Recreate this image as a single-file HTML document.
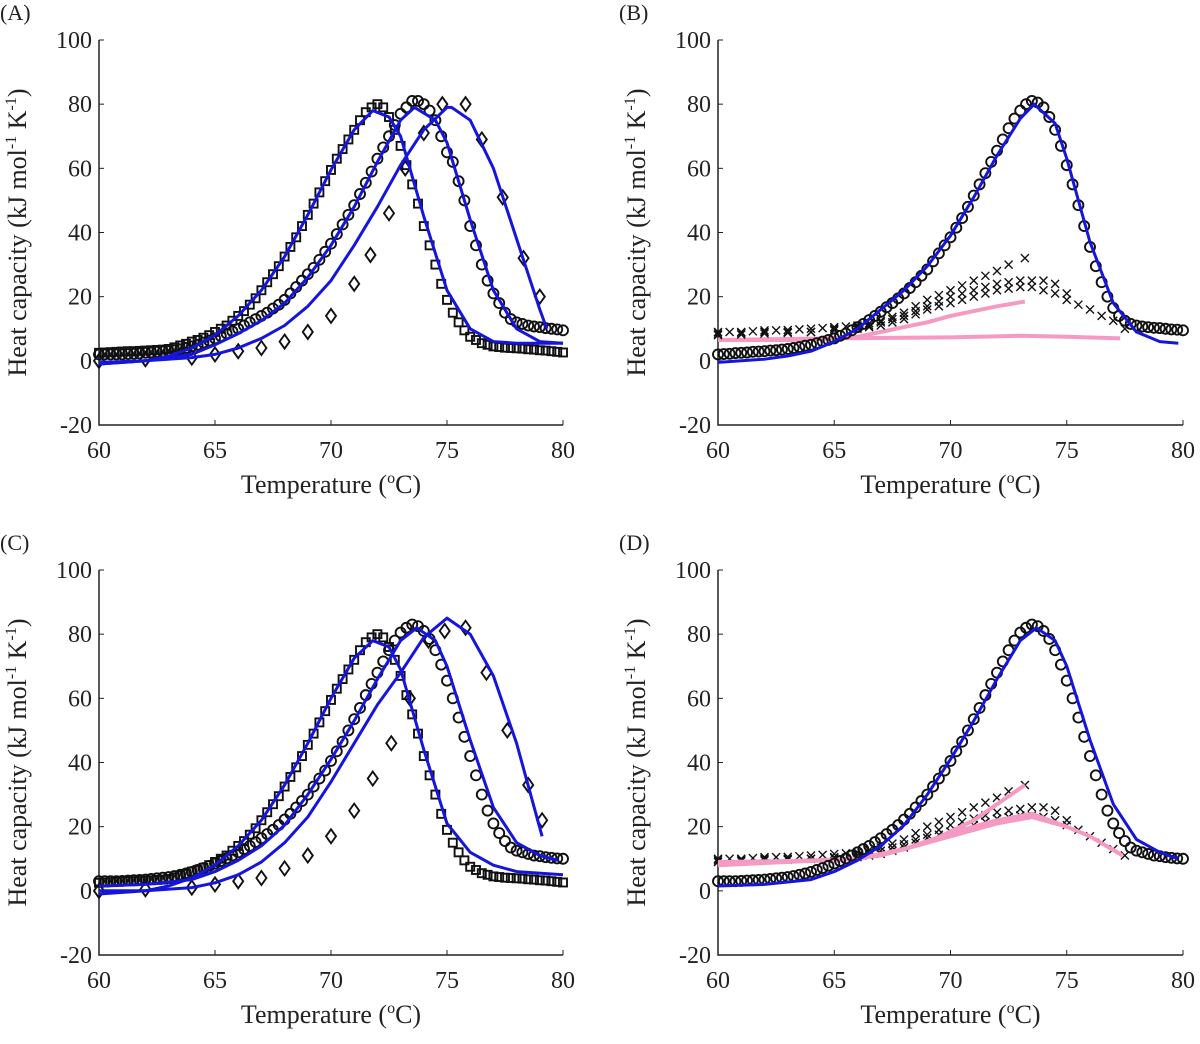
<!DOCTYPE html>
<html><head><meta charset="utf-8"><style>
body{margin:0;background:#fff}
svg text{font-family:"Liberation Serif",serif;fill:#222}
</style></head><body>
<svg id="fig" width="1200" height="1039" viewBox="0 0 1200 1039" xmlns="http://www.w3.org/2000/svg"></svg>
<script>
// ---- data ----
const gridT=[60,60.25,60.5,60.75,61,61.25,61.5,61.75,62,62.25,62.5,62.75,63,63.25,63.5,63.75,64,64.25,64.5,64.75,65,65.25,65.5,65.75,66,66.25,66.5,66.75,67,67.25,67.5,67.75,68,68.25,68.5,68.75,69,69.25,69.5,69.75,70,70.25,70.5,70.75,71,71.25,71.5,71.75,72,72.25,72.5,72.75,73,73.25,73.5,73.75,74,74.25,74.5,74.75,75,75.25,75.5,75.75,76,76.25,76.5,76.75,77,77.25,77.5,77.75,78,78.25,78.5,78.75,79,79.25,79.5,79.75,80];
const sqV=[2.5,2.6,2.7,2.8,2.9,3,3,3.1,3.2,3.3,3.4,3.5,3.7,4.2,4.8,5.3,6,6.5,7.2,8,9,10,11,12.5,14,15.5,17.5,19.5,22,24.5,27,29.5,32.5,35.5,38.5,42,45.5,49,52.5,56,59.5,63,66,69,72,75,77.5,79,80,79,76,72,67,61,55,49,42,36,30,24,19,15,12,9.5,7.5,6.5,5.5,5,4.5,4.3,4.1,4,3.9,3.8,3.6,3.5,3.3,3.2,3,2.8,2.6];
const fitSqT=[60,62,63,64,65,66,67,68,69,70,71,71.8,72.5,73,74,75,76,77,78,80];
const fitSqV=[-1,0,1.5,4,8,14,22,32.5,45.5,59.5,72,78,76,70,45,22,10,6,5.5,5.5];
const ciA=[2,2,2,2,2,2.1,2.2,2.3,2.5,2.6,2.8,2.9,3,3.3,3.6,4,4.5,5,5.7,6.3,7,7.7,8.5,9.2,10,11,12,13,14,15,16.3,17.5,19,21,23,25,27,29,31.5,34,36.5,39.5,42.5,45.5,48.5,52,55.5,59,63,66.5,70,73.5,77,79,81,81,80,78,75,70,65,62,56,50,42,36,30,25,21,18,15,13,12,11.5,11,10.7,10.5,10.2,10,9.8,9.5];
const fitCiAT=[60,62,64,65,66,67,68,69,70,71,72,73,73.6,74.5,75,76,77,78,79,80];
const fitCiAV=[-1,0,2,5,8.5,12.5,18,26,36,48,62,75,79,75,68,44,22,10,6,5.5];
const diT=[60,62,64,65,66,67,68,69,70,71,71.7,72.5,73.2,74,74.8,75.8,76.5,77.4,78.3,79];
const diA=[0,0.5,1,2,3,4,6,9,14,24,33,46,60,71,80,80,69,51,32,20];
const fitDiAT=[60,62,64,65,66,67,68,69,70,71,72,73,74,75,75.2,76,77,78,79,79.3];
const fitDiAV=[-0.5,0,1,2,4,7,11,17,25,36,48,61,72,79,79,75,60,38,16,10];
// panel B
const ciB=[2,2.1,2.2,2.4,2.5,2.6,2.8,2.9,3,3.2,3.3,3.5,3.7,4,4.3,4.7,5,5.5,6,6.5,7,7.8,8.5,9.5,10.5,11.5,12.7,14,15.3,16.7,18,19.5,21,22.7,24.5,26.5,28.5,31,33.5,36,38.5,41.5,44.5,48,51.5,55,58.5,62,65.5,69,72.5,75.5,78,80,81,80.5,79,76,72,67,61,55,48.5,42,35.5,29.5,24.5,20,16.5,14,12.5,11.5,11,10.7,10.5,10.3,10.2,10,9.8,9.7,9.5];
const fitBT=[60,62,63,64,65,66,67,68,69,70,71,72,73,73.6,74.5,75,76,77,78,79,79.8];
const fitBV=[-0.5,0.5,1.5,3,6,10,16,22,29.5,39,51,64,75.5,80,74,63,37,18,9,6,5.5];
const x1T=[60,60.5,61,61.5,62,62.5,63,63.5,64,64.5,65,65.5,66,66.5,67,67.5,68,68.5,69,69.5,70,70.5,71,71.5,72,72.5,73.2];
const x1B=[9,9,9,9.2,9.5,9.5,9.6,9.8,10,10.2,10.5,10.7,11,11.7,12.5,13.7,15,17,19,20.5,22,23.5,25,26.5,28,30,32];
const x2T=[60,61,62,63,64,65,66,66.5,67,67.5,68,68.5,69,69.5,70,70.5,71,71.5,72,72.5,73,73.5,74,74.5,75];
const x2B=[8.5,8.7,9,9,9,10,10.5,11,12,13,14,15.5,17,18.5,20,21,22,23,24,24.5,25,25,25,24,21];
const x3T=[60,61,62,63,64,65,66,66.5,67,67.5,68,68.5,69,69.5,70,70.5,71,71.5,72,72.5,73,73.5,74,74.5,75,75.5,76,76.5,77,77.5];
const x3B=[8,8.2,8.5,8.7,9,9.5,10,10.5,11,12,13,14.5,16,17,18,19,20,21,22,22.5,23,23,22,21,19,17.5,16,14,12.5,10];
const p1T=[60,63,65,66,67,68,69,70,71,72,73.2];
const p1B=[6.5,6.5,7,7.5,9,10.5,12,14,15.5,17,18.5];
const p2T=[60,65,70,73,75,77.3];
const p2B=[6.5,7,7.3,7.8,7.5,7];
// panel C
const fitSqCV=[-1,0,1.5,4,8,14,22,33,46,60,72.5,78,76,69,44,21,12,8,6,5];
const ciC=[3,3,3,3,3.1,3.2,3.3,3.4,3.5,3.7,3.9,4.1,4.3,4.6,5,5.4,5.9,6.5,7.1,7.8,8.5,9.3,10.1,11,12,13,14,15.2,16.4,17.7,19,20.5,22.2,24,26,28,30,32.5,35,37.5,40.5,43.5,46.5,50,53.5,57,61,64.5,68,71.5,75,78,80.5,82,83,82.5,81,78.5,75,70.5,65.5,60,54,48,42,36,30,25,21,18,15.5,13.5,12.5,12,11.5,11,10.8,10.5,10.3,10.1,10];
const diCT=[60,62,64,65,66,67,68,69,70,71,71.8,72.6,73.4,74.2,74.9,75.8,76.7,77.6,78.5,79.1];
const diC=[0,0.5,1,2,3,4,7,11,17,25,35,46,60,78,81,82,68,50,33,22];
const fitCiCT=[60,62,64,65,66,67,68,69,70,71,72,73,73.7,74.5,75,76,77,78,79,79.8];
const fitCiCV=[1.5,2,3.5,6,9.5,14,20.5,30,41,53,66,78,82,78,70,47,26,15,11,9.5];
const fitDiCT=[60,62,64,65,66,67,68,69,70,71,72,73,74,75,76,77,78,79.1];
const fitDiCV=[0,0,1,2.5,5,9,15,23,34,46,58,68,79,85,80,67,46,17];
// panel D
const x1D=[10,10,10,10.2,10.5,10.5,10.6,10.8,11,11.2,11.5,11.7,12,12.7,13.5,14.7,16,18,20,21.5,23,24.5,26,27.5,29,31,33];
const x2D=[9.5,9.7,10,10,10,10.5,11,11.5,12.5,13.5,14.5,16,17.5,19,20.5,21.5,22.5,23.5,24.5,25,25.5,26,26,25,22];
const x3D=[9,9.2,9.5,9.7,10,10.2,10.5,11,11.5,12.5,13.5,15,16.5,17.5,18.5,19.5,20.5,21.5,22.5,23,23.5,23.5,23,22,20.5,19,17,15,13,11];
const pDT1=[60,65,67,69,71,73.2];const pDV1=[9,9.5,11,15,22,33];
const pDT2=[60,66,68,70,72,73.5,75];const pDV2=[8.5,10,13,18,22,24,20];
const pDT3=[60,66,68,70,72,73.5,75,76,77.4];const pDV3=[8,10,13,17,21,23,20,17,11];
const fitDT=[60,62,64,65,66,67,68,69,70,71,72,73,73.7,74.5,75,76,77,78,79,79.8];
const fitDV=[1.5,2,3.5,6,9.5,14,20.5,30,41,53,66,78,82,78,70,47,27,16,12,10];
const xTicks=[60,65,70,75,80];
const yTicks=[-20,0,20,40,60,80,100];

const NS='http://www.w3.org/2000/svg';
const svg=document.getElementById('fig');
function el(tag,attrs,parent){const e=document.createElementNS(NS,tag);for(const k in attrs)e.setAttribute(k,attrs[k]);(parent||svg).appendChild(e);return e;}

function panel(label,x0,x1,yTop,yBot){
  const g=el('g',{});
  
  
  const sx=t=>x0+(t-60)/20*(x1-x0);
  const sy=v=>yBot-(v+20)/120*(yBot-yTop);
  const t=el('text',{x:x0-99,y:yTop-20,'font-size':22},g);t.textContent='('+label+')';
  
  
  const ax=el('path',{d:`M${x0},${yTop}V${yBot}H${x1}`,stroke:'#222','stroke-width':1.5,fill:'none'},g);
  
  
  yTicks.forEach(v=>{el('line',{x1:x0,x2:x0+5,y1:sy(v),y2:sy(v),stroke:'#222'},g);
    const tx=el('text',{x:x0-7,y:sy(v)+8,'font-size':24,'text-anchor':'end'},g);tx.textContent=v;
    
    });
  xTicks.forEach(v=>{el('line',{x1:sx(v),x2:sx(v),y1:yBot,y2:yBot-5,stroke:'#222'},g);
    const tx=el('text',{x:sx(v),y:yBot+33,'font-size':24,'text-anchor':'middle'},g);tx.textContent=v;
    
    });
  const xl=el('text',{x:(x0+x1)/2,y:yBot+68,'font-size':26,'text-anchor':'middle'},g);
  xl.innerHTML='Temperature (<tspan dy="-10" font-size="16">o</tspan><tspan dy="10">C)</tspan>';
  
  
  const yl=el('text',{x:0,y:0,'font-size':26,'text-anchor':'middle',transform:`translate(${x0-73},${(yTop+yBot)/2}) rotate(-90)`},g);
  yl.innerHTML='Heat capacity (kJ mol<tspan dy="-10" font-size="16">-1</tspan><tspan dy="10"> K</tspan><tspan dy="-10" font-size="16">-1</tspan><tspan dy="10">)</tspan>';
  
  
  return {g,sx,sy};
}
function line(P,T,V,color,w,name){
  const d=T.map((t,i)=>(i?'L':'M')+P.sx(t).toFixed(1)+','+P.sy(V[i]).toFixed(1)).join('');
  const p=el('path',{d,stroke:color,'stroke-width':w,fill:'none','stroke-linejoin':'round'},P.g);
  
  
}
function markers(P,T,V,shape,name){
  const g=el('g',{stroke:'#111','stroke-width':1.9,fill:'none'},P.g);
  
  
  T.forEach((t,i)=>{const x=P.sx(t),y=P.sy(V[i]);
    if(shape==='o')el('circle',{cx:x,cy:y,r:5},g);
    else if(shape==='s')el('rect',{x:x-4,y:y-4,width:8,height:8},g);
    else if(shape==='d')el('path',{d:`M${x},${y-7}L${x+5},${y}L${x},${y+7}L${x-5},${y}Z`},g);
    else el('path',{d:`M${x-4},${y-4}L${x+4},${y+4}M${x-4},${y+4}L${x+4},${y-4}`,'stroke-width':1.4},g);
  });
}
const BLUE='#1515dd',PINK='#f59ac2';
// A
let P=panel('A',99,563,40,425);
markers(P,gridT,sqV,'s','squares-series');markers(P,gridT,ciA,'o','circles-series');markers(P,diT,diA,'d','diamonds-series');
line(P,fitSqT,fitSqV,BLUE,3,'fit-squares');line(P,fitCiAT,fitCiAV,BLUE,3,'fit-circles');line(P,fitDiAT,fitDiAV,BLUE,3,'fit-diamonds');
// B
P=panel('B',718,1183,40,425);
line(P,p1T,p1B,PINK,4,'pink-rising');line(P,p2T,p2B,PINK,4,'pink-flat');
markers(P,x1T,x1B,'x','cross-series-1');markers(P,x2T,x2B,'x','cross-series-2');markers(P,x3T,x3B,'x','cross-series-3');
markers(P,gridT,ciB,'o','circles-series');line(P,fitBT,fitBV,BLUE,3,'fit-circles');
// C
P=panel('C',99,563,570,955);
markers(P,gridT,sqV,'s','squares-series');markers(P,gridT,ciC,'o','circles-series');markers(P,diCT,diC,'d','diamonds-series');
line(P,fitSqT,fitSqCV,BLUE,3,'fit-squares');line(P,fitCiCT,fitCiCV,BLUE,3,'fit-circles');line(P,fitDiCT,fitDiCV,BLUE,3,'fit-diamonds');
// D
P=panel('D',718,1183,570,955);
markers(P,x1T,x1D,'x','cross-series-1');markers(P,x2T,x2D,'x','cross-series-2');markers(P,x3T,x3D,'x','cross-series-3');
line(P,pDT1,pDV1,PINK,4,'pink-1');line(P,pDT2,pDV2,PINK,4,'pink-2');line(P,pDT3,pDV3,PINK,4,'pink-3');
markers(P,gridT,ciC,'o','circles-series');line(P,fitDT,fitDV,BLUE,3,'fit-circles');
</script>
</body></html>
